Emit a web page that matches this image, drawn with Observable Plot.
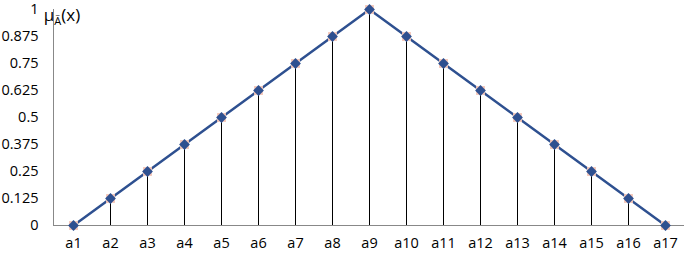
<!DOCTYPE html>
<html><head><meta charset="utf-8">
<script src="https://cdn.jsdelivr.net/npm/d3@7"></script>
<script src="https://cdn.jsdelivr.net/npm/@observablehq/plot@0.6"></script>
<style>body{margin:0;background:#fff}</style>
</head><body><div id="chart"></div>
<script>
const categories = ["a1","a2","a3","a4","a5","a6","a7","a8","a9","a10","a11","a12","a13","a14","a15","a16","a17"];
const membership = [0,0.125,0.25,0.375,0.5,0.625,0.75,0.875,1,0.875,0.75,0.625,0.5,0.375,0.25,0.125,0];
const yTicks = [0,0.125,0.25,0.375,0.5,0.625,0.75,0.875,1];
const data = categories.map((c,i)=>({cat:c, v:membership[i]}));
const font = "'Open Sans', sans-serif";
const plot = Plot.plot({
  width: 685, height: 253,
  marginLeft: 53, marginRight: 1, marginTop: 9, marginBottom: 28,
  style: {fontFamily: font, fontSize: "14px", color: "#000", background: "#fff"},
  x: {type: "point", domain: categories, padding: 0.5, label: null},
  y: {domain: [0,1], label: null},
  marks: [
    Plot.axisX({tickSize: 0, tickPadding: 12, fontSize: 14.5}),
    Plot.axisY({ticks: yTicks, tickSize: 0, tickPadding: 15, fontSize: 14.5, tickFormat: d=>String(d)}),
    Plot.ruleX(data.filter(d=>d.v>0), {x: "cat", y1: 0, y2: "v", stroke: "#000", strokeWidth: 1}),
    Plot.ruleY([0], {stroke: "#888", strokeWidth: 1}),
    Plot.line(data, {x: "cat", y: "v", stroke: "#2E5090", strokeWidth: 2.5}),
    Plot.dot(data, {x: "cat", y: "v", symbol: "square", r: 5, fill: "#F4C6B8", stroke: "none"}),
    Plot.dot(data, {x: "cat", y: "v", symbol: "square", r: 4.3, rotate: 45, fill: "#2E5090", stroke: "none"})
  ]
});
document.getElementById("chart").appendChild(plot);
const svg = d3.select(plot);
svg.append("line").attr("x1",53.5).attr("x2",53.5).attr("y1",9).attr("y2",225).attr("stroke","#888");
const t = svg.append("text").attr("x",62).attr("y",21).attr("font-family",font).attr("font-size",17).attr("fill","#000");
t.append("tspan").text("μ");
t.append("tspan").attr("font-size",11).attr("dy",4).text("Ã");
t.append("tspan").attr("dy",-4).text("(x)");
</script></body></html>
